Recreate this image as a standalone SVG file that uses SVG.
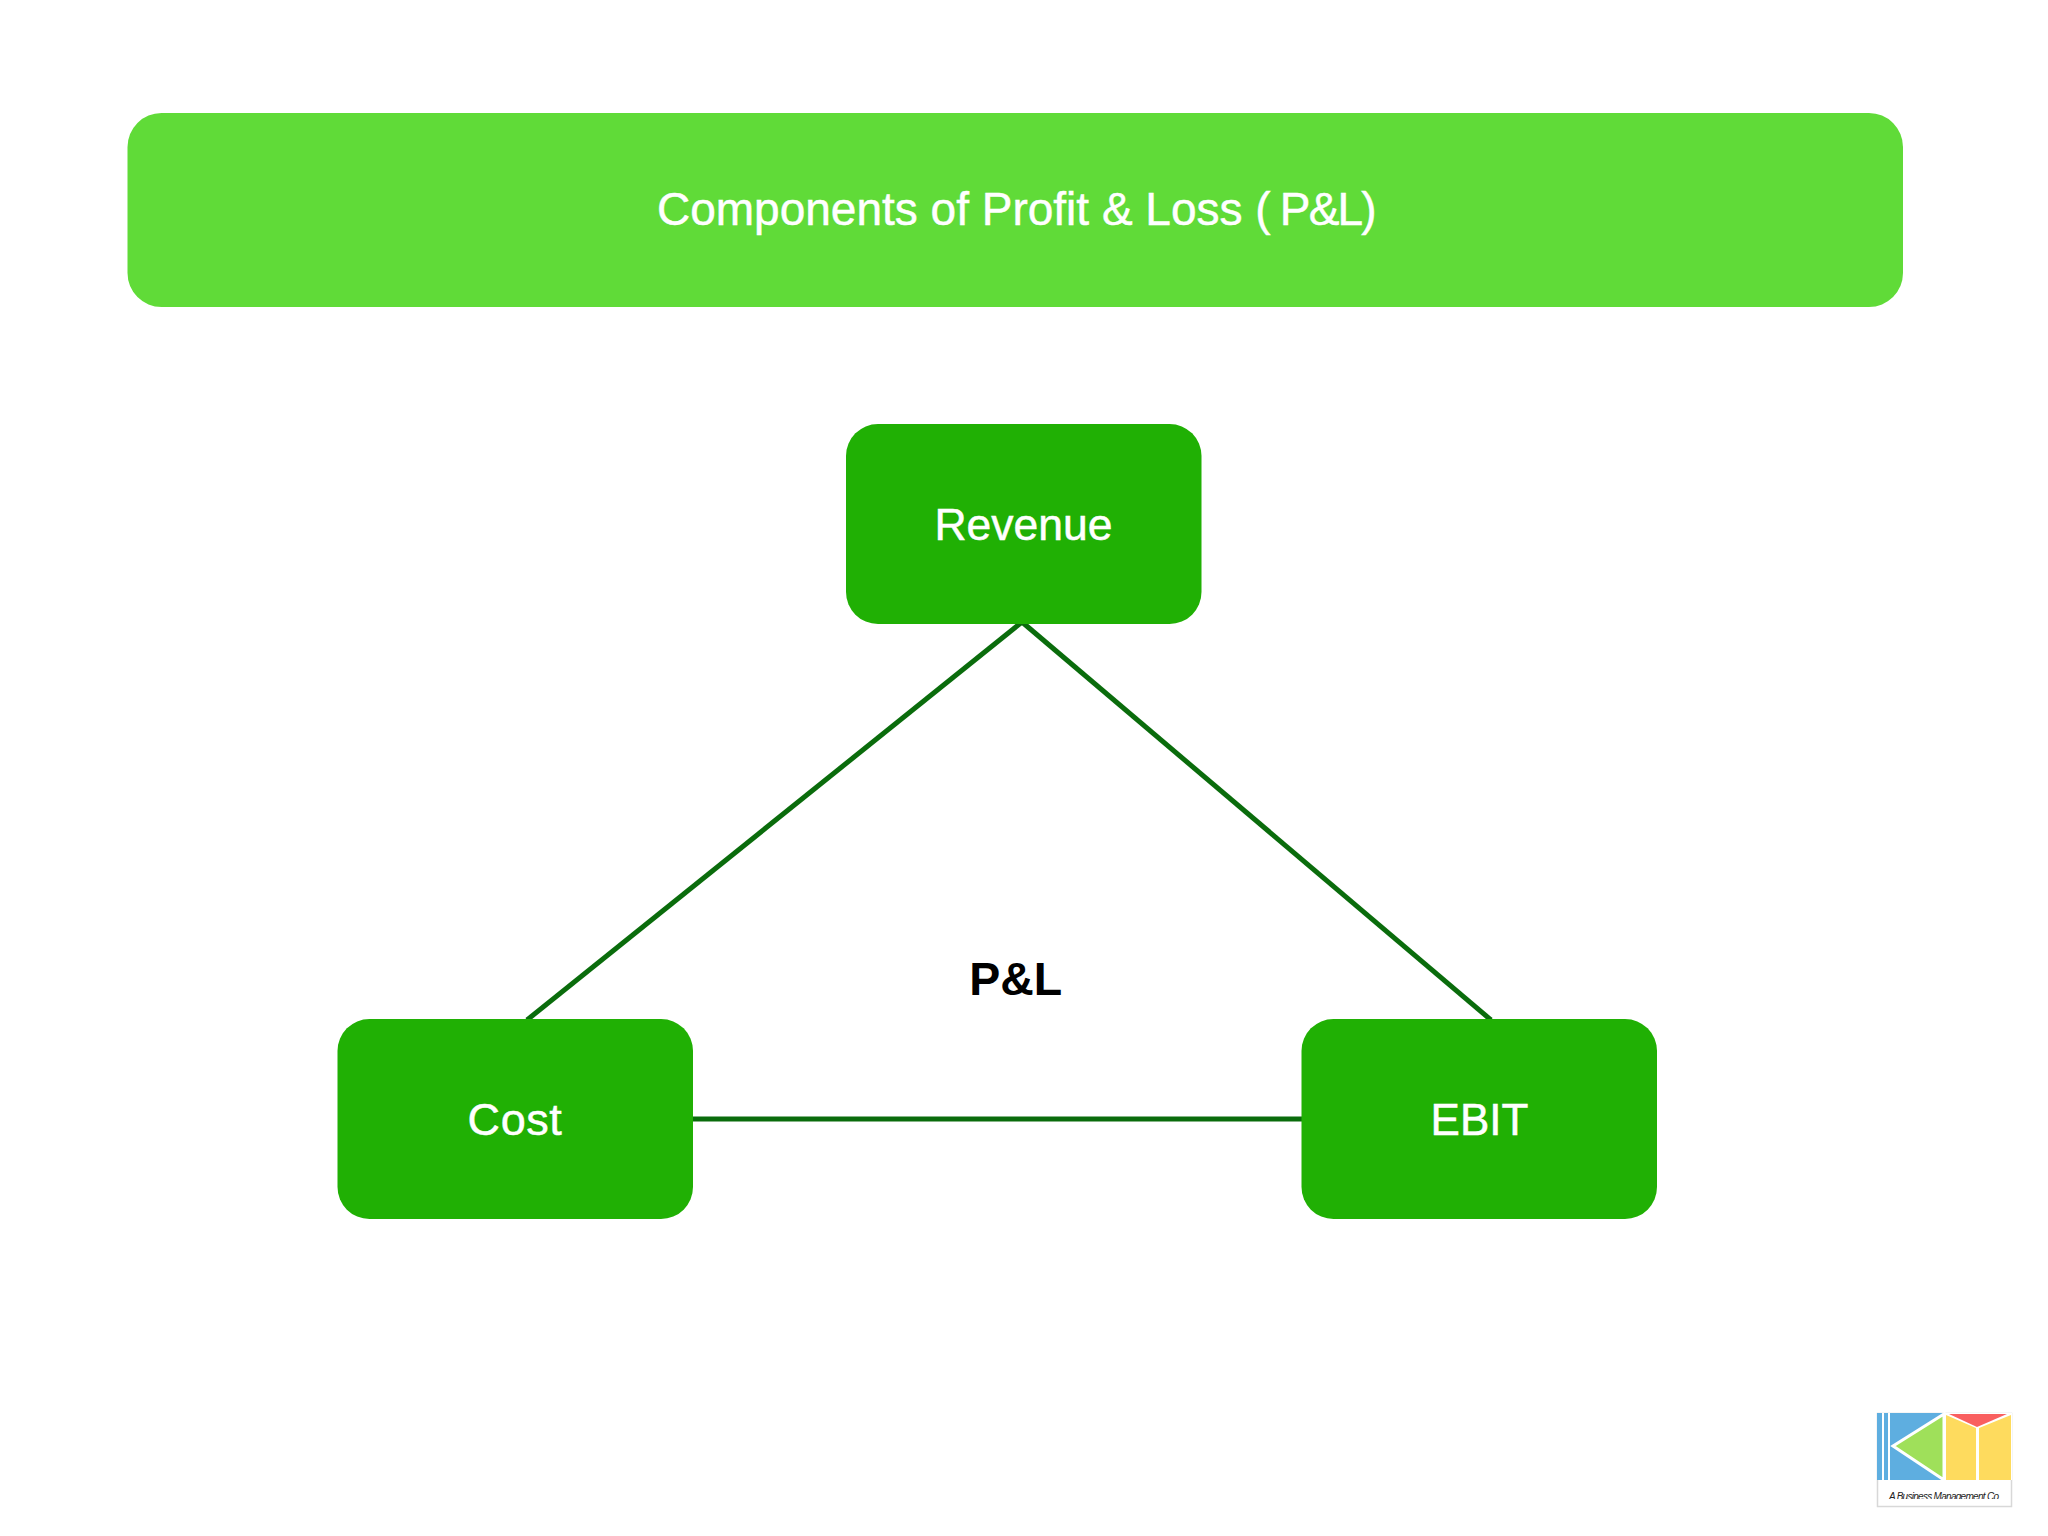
<svg xmlns="http://www.w3.org/2000/svg" width="2048" height="1536" viewBox="0 0 2048 1536">
<style>
.node{fill:#20b004}
.lbl{font-family:"Liberation Sans",Arial,sans-serif;font-size:44px;fill:#fff;stroke:#fff;stroke-width:.5px;text-anchor:middle}
.edge{stroke:#0a6c0c;stroke-width:5;fill:none}
</style>
<defs><clipPath id="logoclip"><rect x="1880" y="1484" width="130" height="15"/></clipPath></defs>
<rect width="2048" height="1536" fill="#fff"/>
<g id="connectors">
<line class="edge" x1="1022" y1="622" x2="527" y2="1020"/>
<line class="edge" x1="1022" y1="622" x2="1491" y2="1020"/>
<line class="edge" x1="690" y1="1119" x2="1305" y2="1119"/>
</g>
<g id="title">
<rect x="127.500" y="113" width="1775.500" height="194" rx="34" fill="#60db38"/>
<text class="lbl" x="657" y="225" style="font-size:46px;text-anchor:start">Components of Profit &amp; Loss <tspan letter-spacing="-1.800">( P&amp;L)</tspan></text>
</g>
<g id="revenue">
<rect class="node" x="846" y="424" width="355.500" height="200" rx="32"/>
<text class="lbl" x="1023.500" y="540" style="font-size:44.500px">Revenue</text>
</g>
<g id="cost">
<rect class="node" x="337.500" y="1019" width="355.500" height="200" rx="32"/>
<text class="lbl" x="515" y="1135" letter-spacing=".6" style="font-size:45px">Cost</text>
</g>
<g id="ebit">
<rect class="node" x="1301.500" y="1019" width="355.500" height="200" rx="32"/>
<text class="lbl" x="1479.500" y="1135">EBIT</text>
</g>
<g id="pl">
<text x="1015.700" y="995" font-family="Liberation Sans,Arial,sans-serif" font-weight="700" font-size="46.500" fill="#000" text-anchor="middle">P&amp;L</text>
</g>
<g id="logo">
<rect x="1877.500" y="1413.500" width="134" height="93" fill="#fff" stroke="#d8d8d8" stroke-width="1.500"/>
<rect x="1877" y="1413" width="135" height="67" fill="#fff"/>
<rect x="1877" y="1413" width="5" height="67" fill="#5eaee0"/>
<rect x="1884" y="1413" width="4" height="67" fill="#5eaee0"/>
<rect x="1890" y="1413" width="53" height="67" fill="#5eaee0"/>
<polygon points="1893,1446 1944,1414 1944,1480" fill="#9fe05a" stroke="#fff" stroke-width="3"/>
<polygon points="1946,1415 1976,1428 1976,1480 1946,1480" fill="#fedb5e"/>
<polygon points="1979,1428 2011,1415 2011,1480 1979,1480" fill="#fedb5e"/>
<polygon points="1949,1414 2007,1414 1977,1427" fill="#f95f5f"/>
<g clip-path="url(#logoclip)"><text x="1889" y="1499.500" font-family="Liberation Sans,sans-serif" font-style="italic" font-size="10" fill="#222" textLength="110" lengthAdjust="spacing">A Business Management Co</text></g>
</g>
</svg>
